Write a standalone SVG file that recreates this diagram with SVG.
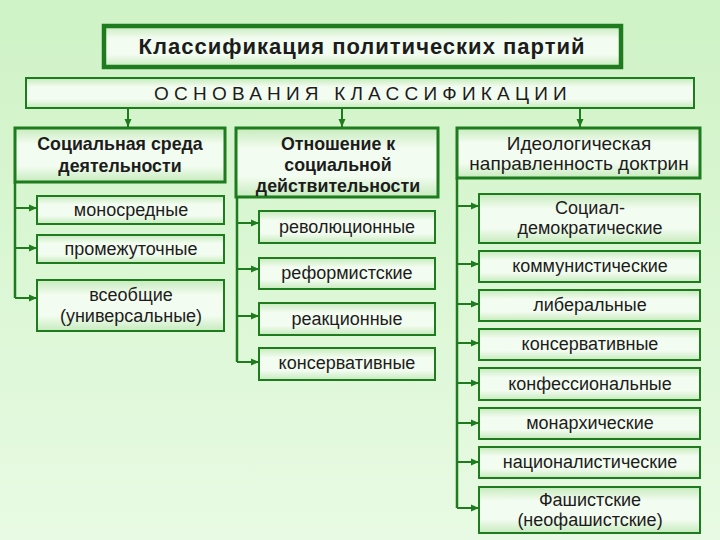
<svg xmlns="http://www.w3.org/2000/svg" width="720" height="540" viewBox="0 0 720 540">
<defs>
<linearGradient id="bg" x1="0" y1="0" x2="0" y2="1">
<stop offset="0" stop-color="#cff2c6"/>
<stop offset="0.5" stop-color="#dbf7d4"/>
<stop offset="1" stop-color="#e8fae3"/>
</linearGradient>
<linearGradient id="box" x1="0" y1="0" x2="0" y2="1">
<stop offset="0" stop-color="#c6ebbd"/>
<stop offset="0.3" stop-color="#f3fcf0"/>
<stop offset="0.7" stop-color="#f3fcf0"/>
<stop offset="1" stop-color="#c6ebbd"/>
</linearGradient>
<marker id="ah" viewBox="0 0 8 8" refX="8" refY="4" markerWidth="8" markerHeight="8" markerUnits="userSpaceOnUse" orient="auto">
<path d="M0,0.5 L8,4 L0,7.5 Z" fill="#1e7b1e"/>
</marker>
<style>
.box{fill:url(#box);stroke:#1e7b1e;stroke-width:2}
.hdr{fill:url(#box);stroke:#1e7b1e;stroke-width:3}
.ttl{fill:url(#box);stroke:#1e7b1e;stroke-width:4.5}
.t{font-family:"Liberation Sans",Arial,sans-serif;font-size:18px;fill:#1c1c1c;text-anchor:middle}
.b{font-weight:bold;font-size:17.8px}
.h3{font-size:19px}
.c{fill:none;stroke:#1e7b1e;stroke-width:2.5}
.a{fill:none;stroke:#1e7b1e;stroke-width:2;marker-end:url(#ah)}
</style>
</defs>
<rect x="0" y="0" width="720" height="540" fill="url(#bg)"/>

<g id="connectors">
<line class="a" x1="128" y1="108" x2="128" y2="127"/>
<line class="a" x1="342" y1="108" x2="342" y2="127"/>
<line class="a" x1="580" y1="108" x2="580" y2="127"/>
<polyline class="c" points="15,182 15,298"/>
<line class="a" x1="15" y1="208" x2="37" y2="208"/>
<line class="a" x1="15" y1="248" x2="37" y2="248"/>
<line class="a" x1="15" y1="298" x2="37" y2="298"/>
<polyline class="c" points="237,197 237,362"/>
<line class="a" x1="237" y1="223" x2="259" y2="223"/>
<line class="a" x1="237" y1="269" x2="259" y2="269"/>
<line class="a" x1="237" y1="316" x2="259" y2="316"/>
<line class="a" x1="237" y1="362" x2="259" y2="362"/>
<polyline class="c" points="457,178 457,508"/>
<line class="a" x1="457" y1="206" x2="479" y2="206"/>
<line class="a" x1="457" y1="264" x2="479" y2="264"/>
<line class="a" x1="457" y1="304" x2="479" y2="304"/>
<line class="a" x1="457" y1="343" x2="479" y2="343"/>
<line class="a" x1="457" y1="383" x2="479" y2="383"/>
<line class="a" x1="457" y1="423" x2="479" y2="423"/>
<line class="a" x1="457" y1="462" x2="479" y2="462"/>
<line class="a" x1="457" y1="508" x2="479" y2="508"/>
</g>

<g id="title">
<rect class="ttl" x="104" y="26" width="517" height="41"/>
<text class="t" x="362" y="54" style="font-size:22px;font-weight:bold;letter-spacing:1px">Классификация политических партий</text>
</g>
<g id="osnovaniya">
<rect class="box" x="26" y="78" width="668" height="30"/>
<text class="t" x="363" y="100" style="font-size:19px;letter-spacing:5.2px">ОСНОВАНИЯ   КЛАССИФИКАЦИИ</text>
</g>

<g id="col1">
<rect class="hdr" x="15" y="128" width="210" height="54"/>
<text class="t b" x="120" y="150">Социальная среда</text>
<text class="t b" x="120" y="172">деятельности</text>
</g>
<g id="col2">
<rect class="hdr" x="236" y="128" width="202" height="69"/>
<text class="t b" x="338" y="150">Отношение к</text>
<text class="t b" x="338" y="171">социальной</text>
<text class="t b" x="338" y="192">действительности</text>
</g>
<g id="col3">
<rect class="hdr" x="457" y="128" width="243" height="50"/>
<text class="t h3" x="579" y="150">Идеологическая</text>
<text class="t h3" x="579" y="170">направленность доктрин</text>
</g>

<g id="mono"><rect class="box" x="37" y="196" width="187" height="28"/><text class="t" x="131" y="216">моносредные</text></g>
<g id="prom"><rect class="box" x="37" y="235" width="187" height="28"/><text class="t" x="131" y="255">промежуточные</text></g>
<g id="vseob"><rect class="box" x="37" y="280" width="187" height="51"/><text class="t" x="131" y="301">всеобщие</text><text class="t" x="131" y="322">(универсальные)</text></g>

<g id="revol"><rect class="box" x="259" y="211" width="176" height="32"/><text class="t" x="347" y="233">революционные</text></g>
<g id="reform"><rect class="box" x="259" y="258" width="176" height="31"/><text class="t" x="347" y="279">реформистские</text></g>
<g id="reakc"><rect class="box" x="259" y="303" width="176" height="32"/><text class="t" x="347" y="325">реакционные</text></g>
<g id="konserv2"><rect class="box" x="259" y="348" width="176" height="32"/><text class="t" x="347" y="369">консервативные</text></g>

<g id="socdem"><rect class="box" x="479" y="194" width="221" height="49"/><text class="t" x="590" y="214">Социал-</text><text class="t" x="590" y="234">демократические</text></g>
<g id="kommun"><rect class="box" x="479" y="251" width="221" height="31"/><text class="t" x="590" y="272">коммунистические</text></g>
<g id="liber"><rect class="box" x="479" y="290" width="221" height="31"/><text class="t" x="590" y="311">либеральные</text></g>
<g id="konserv3"><rect class="box" x="479" y="329" width="221" height="31"/><text class="t" x="590" y="350">консервативные</text></g>
<g id="konf"><rect class="box" x="479" y="368" width="221" height="32"/><text class="t" x="590" y="390">конфессиональные</text></g>
<g id="monarh"><rect class="box" x="479" y="408" width="221" height="31"/><text class="t" x="590" y="429">монархические</text></g>
<g id="nacion"><rect class="box" x="479" y="447" width="221" height="31"/><text class="t" x="590" y="468">националистические</text></g>
<g id="fash"><rect class="box" x="479" y="487" width="221" height="46"/><text class="t" x="590" y="506">Фашистские</text><text class="t" x="590" y="526">(неофашистские)</text></g>
</svg>
